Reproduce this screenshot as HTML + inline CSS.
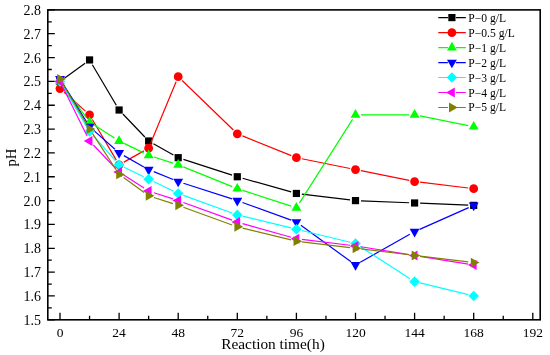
<!DOCTYPE html>
<html><head><meta charset="utf-8"><title>pH vs Reaction time</title>
<style>html,body{margin:0;padding:0;background:#fff}body{width:550px;height:355px;overflow:hidden}</style></head>
<body>
<svg width="550" height="355" viewBox="0 0 550 355" style="display:block" font-family="'Liberation Serif', serif" fill="#000">
<rect width="550" height="355" fill="#fff"/>
<rect x="47.8" y="9.9" width="492.40000000000003" height="309.90000000000003" fill="none" stroke="#000" stroke-width="1.6"/>
<path d="M47.8 319.80h7 M47.8 307.88h4 M47.8 295.96h7 M47.8 284.04h4 M47.8 272.12h7 M47.8 260.20h4 M47.8 248.28h7 M47.8 236.36h4 M47.8 224.44h7 M47.8 212.52h4 M47.8 200.60h7 M47.8 188.68h4 M47.8 176.76h7 M47.8 164.84h4 M47.8 152.92h7 M47.8 141.00h4 M47.8 129.08h7 M47.8 117.16h4 M47.8 105.24h7 M47.8 93.32h4 M47.8 81.40h7 M47.8 69.48h4 M47.8 57.56h7 M47.8 45.64h4 M47.8 33.72h7 M47.8 21.80h4 M47.8 9.88h7 M60.00 319.8v-7 M89.55 319.8v-4 M119.10 319.8v-7 M148.65 319.8v-4 M178.20 319.8v-7 M207.75 319.8v-4 M237.30 319.8v-7 M266.85 319.8v-4 M296.40 319.8v-7 M325.95 319.8v-4 M355.50 319.8v-7 M385.05 319.8v-4 M414.60 319.8v-7 M444.15 319.8v-4 M473.70 319.8v-7 M503.25 319.8v-4 M532.80 319.8v-7" stroke="#000" stroke-width="1.3" fill="none"/>
<text transform="translate(41,324.80) scale(1.03,1)" font-size="13.6" text-anchor="end">1.5</text>
<text transform="translate(41,300.96) scale(1.03,1)" font-size="13.6" text-anchor="end">1.6</text>
<text transform="translate(41,277.12) scale(1.03,1)" font-size="13.6" text-anchor="end">1.7</text>
<text transform="translate(41,253.28) scale(1.03,1)" font-size="13.6" text-anchor="end">1.8</text>
<text transform="translate(41,229.44) scale(1.03,1)" font-size="13.6" text-anchor="end">1.9</text>
<text transform="translate(41,205.60) scale(1.03,1)" font-size="13.6" text-anchor="end">2.0</text>
<text transform="translate(41,181.76) scale(1.03,1)" font-size="13.6" text-anchor="end">2.1</text>
<text transform="translate(41,157.92) scale(1.03,1)" font-size="13.6" text-anchor="end">2.2</text>
<text transform="translate(41,134.08) scale(1.03,1)" font-size="13.6" text-anchor="end">2.3</text>
<text transform="translate(41,110.24) scale(1.03,1)" font-size="13.6" text-anchor="end">2.4</text>
<text transform="translate(41,86.40) scale(1.03,1)" font-size="13.6" text-anchor="end">2.5</text>
<text transform="translate(41,62.56) scale(1.03,1)" font-size="13.6" text-anchor="end">2.6</text>
<text transform="translate(41,38.72) scale(1.03,1)" font-size="13.6" text-anchor="end">2.7</text>
<text transform="translate(41,14.88) scale(1.03,1)" font-size="13.6" text-anchor="end">2.8</text>
<text x="60.00" y="337.3" font-size="13.5" text-anchor="middle">0</text>
<text x="119.10" y="337.3" font-size="13.5" text-anchor="middle">24</text>
<text x="178.20" y="337.3" font-size="13.5" text-anchor="middle">48</text>
<text x="237.30" y="337.3" font-size="13.5" text-anchor="middle">72</text>
<text x="296.40" y="337.3" font-size="13.5" text-anchor="middle">96</text>
<text x="355.50" y="337.3" font-size="13.5" text-anchor="middle">120</text>
<text x="414.60" y="337.3" font-size="13.5" text-anchor="middle">144</text>
<text x="473.70" y="337.3" font-size="13.5" text-anchor="middle">168</text>
<text x="532.80" y="337.3" font-size="13.5" text-anchor="middle">192</text>
<text x="273" y="348.7" font-size="15.35" text-anchor="middle">Reaction time(h)</text>
<text transform="translate(15.8,157.5) rotate(-90)" font-size="14.7" text-anchor="middle">pH</text>
<path d="M64.45 78.17L85.10 63.18M92.35 64.68L116.30 105.27M122.90 113.99L144.85 137.02M153.44 143.70L173.41 154.98M183.43 159.38L232.07 175.07M242.59 178.25L291.11 191.95M301.86 194.11L350.04 199.94M361.00 200.82L409.10 202.76M420.10 203.21L468.20 205.15" fill="none" stroke="#000000" stroke-width="1.2"/>
<rect x="56.40" y="77.80" width="7.20" height="7.20" fill="#000000"/>
<rect x="85.95" y="56.34" width="7.20" height="7.20" fill="#000000"/>
<rect x="115.50" y="106.41" width="7.20" height="7.20" fill="#000000"/>
<rect x="145.05" y="137.40" width="7.20" height="7.20" fill="#000000"/>
<rect x="174.60" y="154.09" width="7.20" height="7.20" fill="#000000"/>
<rect x="233.70" y="173.16" width="7.20" height="7.20" fill="#000000"/>
<rect x="292.80" y="189.85" width="7.20" height="7.20" fill="#000000"/>
<rect x="351.90" y="197.00" width="7.20" height="7.20" fill="#000000"/>
<rect x="411.00" y="199.38" width="7.20" height="7.20" fill="#000000"/>
<rect x="470.10" y="201.77" width="7.20" height="7.20" fill="#000000"/>
<path d="M64.11 92.20L85.44 111.13M92.35 119.51L116.30 160.10M123.89 162.14L143.86 150.86M150.75 143.07L176.10 81.72M182.15 80.46L233.35 130.02M242.40 135.91L291.30 155.63M301.79 158.78L350.11 168.52M360.89 170.70L409.21 180.44M420.06 182.19L468.24 188.02" fill="none" stroke="#ff0000" stroke-width="1.2"/>
<circle cx="60.00" cy="88.55" r="4.40" fill="#ff0000"/>
<circle cx="89.55" cy="114.78" r="4.40" fill="#ff0000"/>
<circle cx="119.10" cy="164.84" r="4.40" fill="#ff0000"/>
<circle cx="148.65" cy="148.15" r="4.40" fill="#ff0000"/>
<circle cx="178.20" cy="76.63" r="4.40" fill="#ff0000"/>
<circle cx="237.30" cy="133.85" r="4.40" fill="#ff0000"/>
<circle cx="296.40" cy="157.69" r="4.40" fill="#ff0000"/>
<circle cx="355.50" cy="169.61" r="4.40" fill="#ff0000"/>
<circle cx="414.60" cy="181.53" r="4.40" fill="#ff0000"/>
<circle cx="473.70" cy="188.68" r="4.40" fill="#ff0000"/>
<path d="M63.24 85.84L86.31 117.48M94.17 124.91L114.48 138.02M124.05 143.40L143.70 152.91M153.88 156.99L172.97 163.15M183.30 166.90L232.20 186.62M242.53 190.37L291.17 206.06M299.35 203.11L352.55 119.42M361.00 114.78L409.10 114.78M419.99 115.86L468.31 125.61" fill="none" stroke="#00ff00" stroke-width="1.2"/>
<polygon points="60.00,75.60 64.95,84.30 55.05,84.30" fill="#00ff00"/>
<polygon points="89.55,116.13 94.50,124.83 84.60,124.83" fill="#00ff00"/>
<polygon points="119.10,135.20 124.05,143.90 114.15,143.90" fill="#00ff00"/>
<polygon points="148.65,149.50 153.60,158.20 143.70,158.20" fill="#00ff00"/>
<polygon points="178.20,159.04 183.15,167.74 173.25,167.74" fill="#00ff00"/>
<polygon points="237.30,182.88 242.25,191.58 232.35,191.58" fill="#00ff00"/>
<polygon points="296.40,201.95 301.35,210.65 291.45,210.65" fill="#00ff00"/>
<polygon points="355.50,108.98 360.45,117.68 350.55,117.68" fill="#00ff00"/>
<polygon points="414.60,108.98 419.55,117.68 409.65,117.68" fill="#00ff00"/>
<polygon points="473.70,120.90 478.65,129.60 468.75,129.60" fill="#00ff00"/>
<path d="M62.90 83.69L86.65 122.02M93.66 130.35L114.99 149.27M123.89 155.62L143.86 166.90M153.75 171.67L173.10 179.47M183.43 183.22L232.07 198.91M242.47 202.48L291.23 220.18M300.85 225.29L351.05 261.74M360.29 262.26L409.81 234.30M419.63 229.36L468.67 207.60" fill="none" stroke="#0000ff" stroke-width="1.2"/>
<polygon points="60.00,84.82 64.95,76.12 55.05,76.12" fill="#0000ff"/>
<polygon points="89.55,132.50 94.50,123.80 84.60,123.80" fill="#0000ff"/>
<polygon points="119.10,158.72 124.05,150.02 114.15,150.02" fill="#0000ff"/>
<polygon points="148.65,175.41 153.60,166.71 143.70,166.71" fill="#0000ff"/>
<polygon points="178.20,187.33 183.15,178.63 173.25,178.63" fill="#0000ff"/>
<polygon points="237.30,206.40 242.25,197.70 232.35,197.70" fill="#0000ff"/>
<polygon points="296.40,227.86 301.35,219.16 291.45,219.16" fill="#0000ff"/>
<polygon points="355.50,270.77 360.45,262.07 350.55,262.07" fill="#0000ff"/>
<polygon points="414.60,237.39 419.55,228.69 409.65,228.69" fill="#0000ff"/>
<polygon points="473.70,211.17 478.65,202.47 468.75,202.47" fill="#0000ff"/>
<path d="M62.80 86.14L86.75 126.73M93.20 135.58L115.45 160.72M124.05 167.24L143.70 176.75M153.60 181.54L173.25 191.05M183.37 195.32L232.13 213.03M242.65 216.20L291.05 227.91M301.75 230.50L350.15 242.22M360.12 246.49L409.98 278.67M419.95 282.95L468.35 294.67" fill="none" stroke="#00ffff" stroke-width="1.2"/>
<polygon points="60.00,76.10 65.30,81.40 60.00,86.70 54.70,81.40" fill="#00ffff"/>
<polygon points="89.55,126.16 94.85,131.46 89.55,136.76 84.25,131.46" fill="#00ffff"/>
<polygon points="119.10,159.54 124.40,164.84 119.10,170.14 113.80,164.84" fill="#00ffff"/>
<polygon points="148.65,173.84 153.95,179.14 148.65,184.44 143.35,179.14" fill="#00ffff"/>
<polygon points="178.20,188.15 183.50,193.45 178.20,198.75 172.90,193.45" fill="#00ffff"/>
<polygon points="237.30,209.60 242.60,214.90 237.30,220.20 232.00,214.90" fill="#00ffff"/>
<polygon points="296.40,223.91 301.70,229.21 296.40,234.51 291.10,229.21" fill="#00ffff"/>
<polygon points="355.50,238.21 360.80,243.51 355.50,248.81 350.20,243.51" fill="#00ffff"/>
<polygon points="414.60,276.36 419.90,281.66 414.60,286.96 409.30,281.66" fill="#00ffff"/>
<polygon points="473.70,290.66 479.00,295.96 473.70,301.26 468.40,295.96" fill="#00ffff"/>
<path d="M62.44 86.33L87.11 136.07M93.35 144.98L115.30 168.01M123.72 174.97L144.03 188.08M153.88 192.75L172.97 198.91M183.37 202.48L232.13 220.18M242.59 223.55L291.11 237.25M301.86 239.40L350.04 245.24M360.93 246.77L409.17 254.56M420.03 256.31L468.27 264.09" fill="none" stroke="#ff00ff" stroke-width="1.2"/>
<polygon points="54.20,81.40 62.90,76.45 62.90,86.35" fill="#ff00ff"/>
<polygon points="83.75,141.00 92.45,136.05 92.45,145.95" fill="#ff00ff"/>
<polygon points="113.30,171.99 122.00,167.04 122.00,176.94" fill="#ff00ff"/>
<polygon points="142.85,191.06 151.55,186.11 151.55,196.01" fill="#ff00ff"/>
<polygon points="172.40,200.60 181.10,195.65 181.10,205.55" fill="#ff00ff"/>
<polygon points="231.50,222.06 240.20,217.11 240.20,227.01" fill="#ff00ff"/>
<polygon points="290.60,238.74 299.30,233.79 299.30,243.69" fill="#ff00ff"/>
<polygon points="349.70,245.90 358.40,240.95 358.40,250.85" fill="#ff00ff"/>
<polygon points="408.80,255.43 417.50,250.48 417.50,260.38" fill="#ff00ff"/>
<polygon points="467.90,264.97 476.60,260.02 476.60,269.92" fill="#ff00ff"/>
<path d="M62.80 83.75L86.75 124.34M92.56 133.69L116.09 169.77M123.55 177.61L144.20 192.60M153.88 197.52L172.97 203.68M183.37 207.24L232.13 224.95M242.65 228.12L291.05 239.83M301.86 241.79L350.04 247.62M360.96 248.94L409.14 254.77M420.06 256.09L468.24 261.92" fill="none" stroke="#808000" stroke-width="1.2"/>
<polygon points="65.80,79.02 57.10,74.07 57.10,83.97" fill="#808000"/>
<polygon points="95.35,129.08 86.65,124.13 86.65,134.03" fill="#808000"/>
<polygon points="124.90,174.38 116.20,169.43 116.20,179.33" fill="#808000"/>
<polygon points="154.45,195.83 145.75,190.88 145.75,200.78" fill="#808000"/>
<polygon points="184.00,205.37 175.30,200.42 175.30,210.32" fill="#808000"/>
<polygon points="243.10,226.82 234.40,221.87 234.40,231.77" fill="#808000"/>
<polygon points="302.20,241.13 293.50,236.18 293.50,246.08" fill="#808000"/>
<polygon points="361.30,248.28 352.60,243.33 352.60,253.23" fill="#808000"/>
<polygon points="420.40,255.43 411.70,250.48 411.70,260.38" fill="#808000"/>
<polygon points="479.50,262.58 470.80,257.63 470.80,267.53" fill="#808000"/>
<path d="M438.3 17.60H447.90M455.90 17.60H465.8" stroke="#000000" stroke-width="1.2"/>
<rect x="448.30" y="14.00" width="7.20" height="7.20" fill="#000000"/>
<text x="468.3" y="21.60" font-size="11.6">P−0 g/L</text>
<path d="M438.3 32.58H447.90M455.90 32.58H465.8" stroke="#ff0000" stroke-width="1.2"/>
<circle cx="451.90" cy="32.58" r="4.40" fill="#ff0000"/>
<text x="468.3" y="36.58" font-size="11.6">P−0.5 g/L</text>
<path d="M438.3 47.56H447.90M455.90 47.56H465.8" stroke="#00ff00" stroke-width="1.2"/>
<polygon points="451.90,41.76 456.85,50.46 446.95,50.46" fill="#00ff00"/>
<text x="468.3" y="51.56" font-size="11.6">P−1 g/L</text>
<path d="M438.3 62.54H447.90M455.90 62.54H465.8" stroke="#0000ff" stroke-width="1.2"/>
<polygon points="451.90,68.34 456.85,59.64 446.95,59.64" fill="#0000ff"/>
<text x="468.3" y="66.54" font-size="11.6">P−2 g/L</text>
<path d="M438.3 77.52H447.90M455.90 77.52H465.8" stroke="#00ffff" stroke-width="1.2"/>
<polygon points="451.90,72.22 457.20,77.52 451.90,82.82 446.60,77.52" fill="#00ffff"/>
<text x="468.3" y="81.52" font-size="11.6">P−3 g/L</text>
<path d="M438.3 92.50H447.90M455.90 92.50H465.8" stroke="#ff00ff" stroke-width="1.2"/>
<polygon points="446.10,92.50 454.80,87.55 454.80,97.45" fill="#ff00ff"/>
<text x="468.3" y="96.50" font-size="11.6">P−4 g/L</text>
<path d="M438.3 107.48H447.90M455.90 107.48H465.8" stroke="#808000" stroke-width="1.2"/>
<polygon points="457.70,107.48 449.00,102.53 449.00,112.43" fill="#808000"/>
<text x="468.3" y="111.48" font-size="11.6">P−5 g/L</text>
</svg>
</body></html>
